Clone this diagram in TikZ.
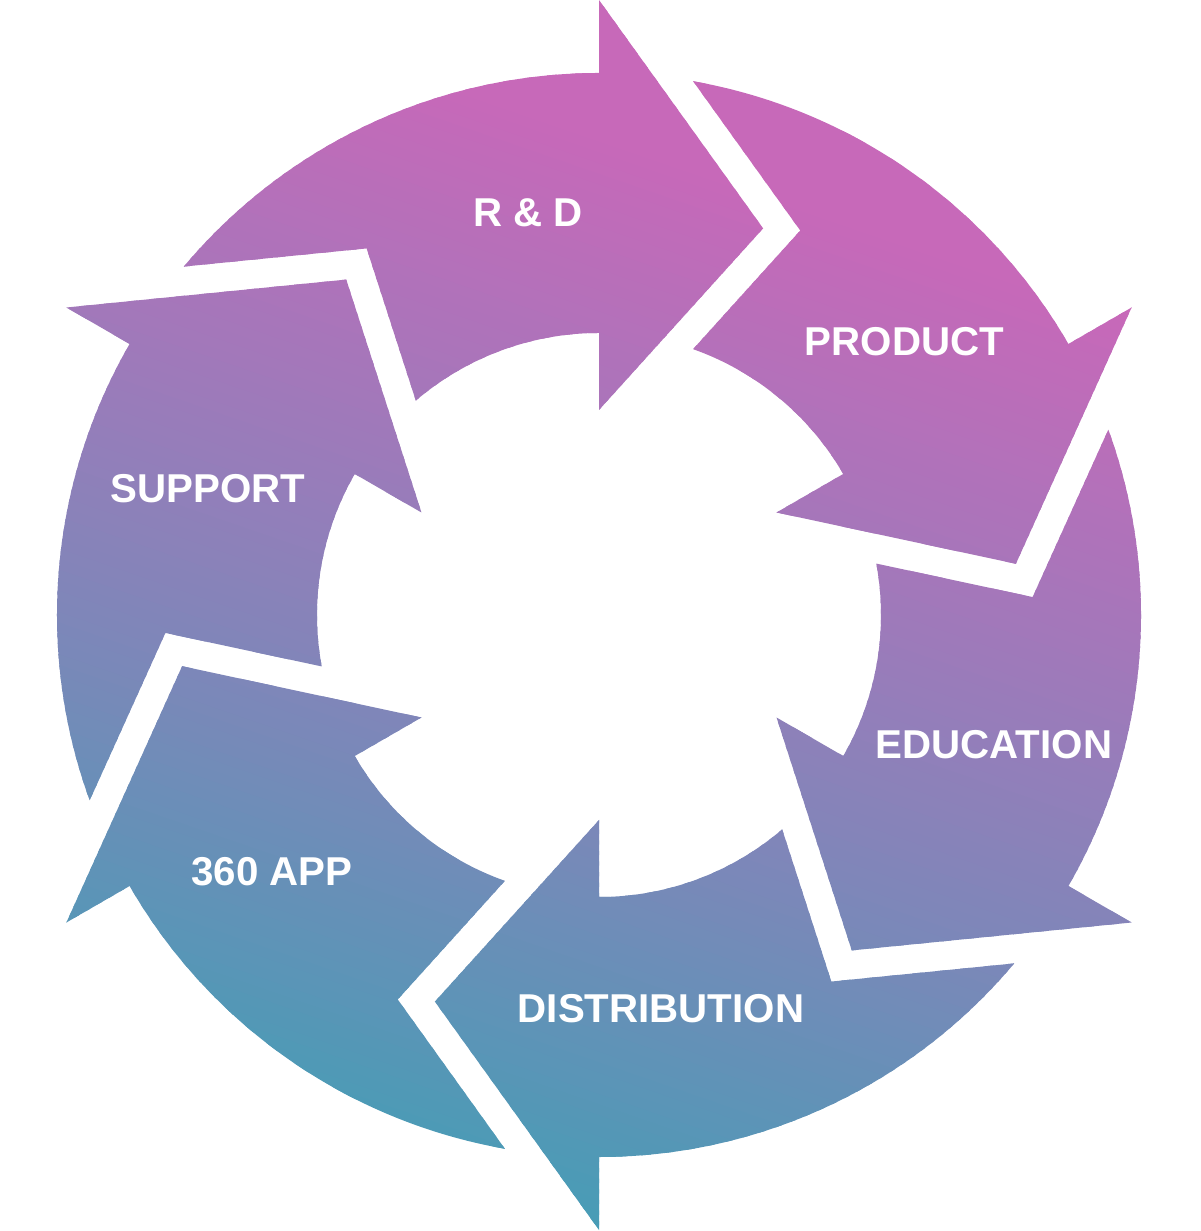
\documentclass[tikz,border=0pt]{standalone}
\usepackage{fontspec}
\setmainfont{Liberation Sans}
\begin{document}
\begin{tikzpicture}[x=0.01cm,y=0.01cm,
  lbl/.style={text=white, font=\fontsize{11.45pt}{13pt}\selectfont\bfseries, inner sep=0pt, anchor=center}]
\useasboundingbox (-599,-616) rectangle (601,615);
\begin{scope}
\clip foreach \o in {0,60,120,180,240,300} {
  (140-\o:542) arc[start angle=140-\o, end angle=90-\o, radius=542]
  -- (90-\o:615) -- (67-\o:420) -- (90-\o:205) -- (90-\o:282)
  arc[start angle=90-\o, end angle=130.51-\o, radius=282]
  -- (122.37-\o:434) -- cycle };
\begin{scope}[rotate=-19]
\foreach \i in {0,...,125} {
  \pgfmathsetmacro\pp{-640+10*\i}
  \pgfmathsetmacro\pa{(\pp)+386.5}
  \pgfmathsetmacro\ta{min(max(((\pa)+60)/310,0),1)}
  \pgfmathsetmacro\tb{min(max(((\pa)-250)/350,0),1)}
  \pgfmathsetmacro\tc{max(((\pa)-600)/370,0)}
  \pgfmathtruncatemacro\R{199-35*\ta-42*\tb-50*\tc}
  \pgfmathtruncatemacro\G{105+15*\ta+17*\tb+20*\tc}
  \pgfmathtruncatemacro\B{185+2*\ta-2*\tb-3*\tc}
  \definecolor{sc}{RGB}{\R,\G,\B}
  \pgfmathsetmacro\ya{-1*(\pp)-7}
  \pgfmathsetmacro\yb{-1*(\pp)+7}
  \fill[sc] (-900,\ya) rectangle (900,\yb);
}
\end{scope}
\end{scope}
\node[lbl] (rd)   at (-71,402)  {R \& D};
\node[lbl] (prod) at (305.5,273.5) {PRODUCT};
\node[lbl] (edu)  at (395,-130) {EDUCATION};
\node[lbl] (dist) at (62,-394) {DISTRIBUTION};
\node[lbl] (app)  at (-327,-257) {360 APP};
\node[lbl] (sup)  at (-391,126) {SUPPORT};
\end{tikzpicture}
\end{document}
